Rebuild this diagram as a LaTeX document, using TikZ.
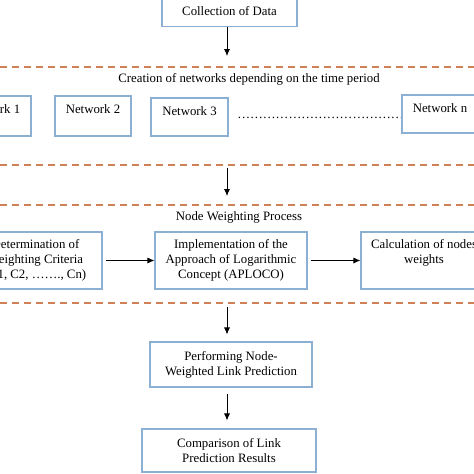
\documentclass[tikz,border=0pt]{standalone}
\usepackage{fontspec}
\setmainfont{Liberation Serif}
\usepackage{xcolor}
\usepackage{tikz}
\usetikzlibrary{calc, arrows.meta, positioning}
\definecolor{boxblue}{RGB}{140,176,212}
\definecolor{dashorange}{RGB}{206,128,86}
\tikzset{
    boxnode/.style = {draw=boxblue, line width=1.1pt, rectangle, inner sep=4pt, align=center,
      font=\fontsize{12.8}{15}\selectfont},
    textnode/.style = {draw=none, fill=none, rectangle, inner sep=0pt, align=center,
      font=\fontsize{12.8}{15}\selectfont},
    divider/.style = {dashorange, line width=1.1pt, dash pattern=on 7pt off 5pt},
    connect/.style = {black, line width=0.8pt, -{Latex[length=7pt,width=6pt]}},
}
\begin{document}
\begin{tikzpicture}[x=1pt, y=-1pt]
    \useasboundingbox (0,0) rectangle (474,474);
    \clip (0,0) rectangle (474,474);

    % collection
    \node [name=data, boxnode, minimum width=135pt, minimum height=30pt] at (229.5,11.5) {Collection of Data};
    \coordinate (c1) at (227,56);
    \draw [connect] (data.south -| c1) -- (c1);

    % networks
    \draw [divider] (0,67) -- (474,67);
    \node [name=netlabel, textnode] at (249,79) {Creation of networks depending on the time period};

    \node [name=net1, boxnode, minimum width=76pt, text height=13pt, text depth=19pt] at (-7,116) {Network 1};
    \node [name=net2, boxnode, minimum width=76pt, text height=13pt, text depth=19pt] at (93,116) {Network 2};
    \node [name=net3, boxnode, minimum width=77pt, text height=13pt, text depth=17pt] at (189.5,117) {Network 3};
    \node [name=dots, textnode] at (320.5,118) {…………………………………};
    \node [name=netn, boxnode, minimum width=76pt, text height=13pt, text depth=17pt] at (440,114) {Network n};

    \draw [divider] (0,165) -- (474,165);
    \coordinate (c2a) at (227,168);
    \coordinate (c2b) at (227,196);
    \draw [connect] (c2a) -- (c2b);

    % weighting
    \draw [divider] (0,205) -- (474,205);
    \node [name=weightlabel, textnode] at (239,217) {Node Weighting Process};

    \node [name=det, boxnode, minimum width=133pt, text height=42pt, text depth=7pt] at (35.5,260.5)
        {Determination of\\Weighting Criteria\\(C1, C2, ……., Cn)};
    \node [name=impl, boxnode, minimum width=152pt, text height=42pt, text depth=7pt] at (231,260.5)
        {Implementation of the\\Approach of Logarithmic\\Concept (APLOCO)};
    \node [name=calc, boxnode, minimum width=126pt, text height=27pt, text depth=22pt] at (424,260.5)
        {Calculation of nodes\\weights};

    \draw [connect, shorten <=3pt] (det) -- (impl);
    \draw [connect, shorten <=3pt] (impl) -- (calc);

    \draw [divider] (0,303) -- (474,303);
    \coordinate (c3) at (227,307);

    % prediction
    \node [name=perf, boxnode, minimum width=162pt, minimum height=45pt] at (231,364.5)
        {Performing Node-\\Weighted Link Prediction};
    \draw [connect, shorten >=7pt] (c3) -- (c3 |- perf.north);

    \node [name=comp, boxnode, minimum width=174pt, minimum height=43pt] at (229,450.5)
        {Comparison of Link\\Prediction Results};
    \draw [connect, shorten <=6pt, shorten >=8pt] (perf.south -| c3) -- (comp.north -| c3);
\end{tikzpicture}
\end{document}
